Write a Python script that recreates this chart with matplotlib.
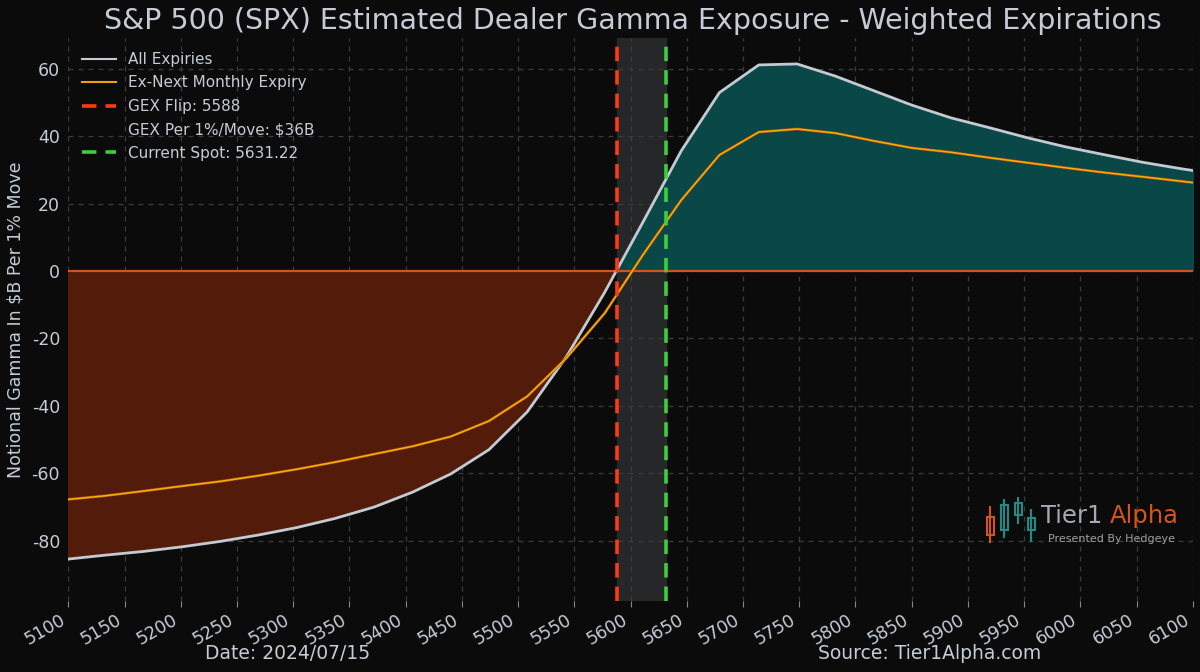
import matplotlib
matplotlib.use("Agg")
import matplotlib.pyplot as plt
import matplotlib.patches as mp
from matplotlib.lines import Line2D

plt.rcParams["axes.unicode_minus"] = False

# strikes (x) and gamma values in $B per 1% move
strikes = [5098, 5132, 5166, 5201, 5235, 5269, 5303, 5337, 5372, 5406,
           5440, 5474, 5508, 5543, 5577, 5611, 5645, 5679, 5714, 5748,
           5782, 5816, 5850, 5885, 5919, 5953, 5987, 6021, 6056, 6090, 6124]
all_expiries = [-85.5, -84.3, -83.2, -81.8, -80.2, -78.3, -76.1, -73.4, -70.0, -65.6,
                -60.2, -53.0, -41.8, -25.4, -6.3, 14.5, 35.6, 52.9, 61.1, 61.4,
                57.8, 53.5, 49.2, 45.4, 42.5, 39.5, 36.8, 34.5, 32.2, 30.3, 28.6]
ex_next_monthly = [-67.8, -66.7, -65.3, -63.8, -62.4, -60.7, -58.8, -56.7, -54.3, -52.0,
                   -49.1, -44.5, -37.2, -25.8, -12.5, 4.8, 21.0, 34.4, 41.2, 42.1,
                   40.9, 38.6, 36.5, 35.2, 33.6, 32.1, 30.6, 29.2, 27.9, 26.6, 25.3]
gex_flip = 5588
spot = 5631.22
gex_per_move = "$36B"
date = "2024/07/15"
x_ticks = list(range(5100, 6101, 50))
y_ticks = [-80, -60, -40, -20, 0, 20, 40, 60]

bg = "#0b0b0b"
txt = "#c5ccd6"

fig = plt.figure(figsize=(12, 6.72), dpi=100, facecolor=bg)
ax = fig.add_axes([0.057, 0.105, 0.937, 0.838], facecolor=bg)

ax.axvspan(gex_flip, spot, color="#262728", zorder=0)

ax.fill_between(strikes, all_expiries, 0, where=[v <= 0 for v in all_expiries],
                interpolate=True, color="#521b0a", zorder=1, linewidth=0)
ax.fill_between(strikes, all_expiries, 0, where=[v >= 0 for v in all_expiries],
                interpolate=True, color="#0a4747", zorder=1, linewidth=0)

ax.axhline(0, color="#d9501c", lw=1.6, zorder=3)
ax.plot(strikes, all_expiries, color="#c3cad2", lw=2.0, zorder=4)
ax.plot(strikes, ex_next_monthly, color="#b04a18", lw=2.0, zorder=4)
ax.plot(strikes, ex_next_monthly, color="#f0b400", lw=1.1, zorder=5)
ax.axvline(gex_flip, color="#ff3a12", lw=2.6, ls=(0, (4, 2.5)), zorder=6)
ax.axvline(spot, color="#3ccf3c", lw=2.6, ls=(0, (4, 2.5)), zorder=6)

ax.set_xlim(5100, 6100)
ax.set_ylim(-98, 69)
ax.set_xticks(x_ticks)
ax.set_yticks(y_ticks)
ax.grid(True, color="#3c3c3c", lw=0.9, ls=(0, (4, 4)))
ax.set_axisbelow(True)
for s in ax.spines.values():
    s.set_visible(False)
ax.tick_params(axis="x", colors="#888888", labelcolor=txt, labelsize=12.5,
               length=4, pad=3)
ax.tick_params(axis="y", colors=bg, labelcolor=txt, labelsize=12.5, length=0, pad=6)
ax.set_ylabel("Notional Gamma In $B Per 1% Move", color=txt, fontsize=12.5, labelpad=5)

fig.suptitle("S&P 500 (SPX) Estimated Dealer Gamma Exposure - Weighted Expirations",
             color=txt, fontsize=20.5, x=0.527, y=0.99, va="top")

handles = [
    Line2D([], [], color="#c3cad2", lw=1.5),
    Line2D([], [], color="#f2a000", lw=1.5),
    Line2D([], [], color="#ff3a12", lw=2.6, ls=(0, (4, 2.5))),
    Line2D([], [], color="none"),
    Line2D([], [], color="#3ccf3c", lw=2.6, ls=(0, (4, 2.5))),
]
labels = ["All Expiries", "Ex-Next Monthly Expiry", f"GEX Flip: {gex_flip}",
          f"GEX Per 1%/Move: {gex_per_move}", f"Current Spot: {spot}"]
leg = ax.legend(handles, labels, loc="upper left", frameon=False, fontsize=11,
                labelcolor=txt, handlelength=2.2, borderaxespad=0.5,
                labelspacing=0.55)

fig.text(0.24, 0.02, f"Date: {date}", color=txt, fontsize=13.5, ha="center",
         va="baseline")
fig.text(0.775, 0.02, "Source: Tier1Alpha.com", color=txt, fontsize=13.5, ha="center",
         va="baseline")

# logo
candles = [(990, 507, 542, 517, 535, "#d4541a"),
           (1004, 500, 537, 505, 530, "#1f8a86"),
           (1018, 498, 523, 503, 515, "#1f8a86"),
           (1031, 510, 541, 518, 530, "#1f8a86")]
for cx, y1, y2, b1, b2, c in candles:
    fig.add_artist(Line2D([cx / 1200, cx / 1200], [1 - y1 / 672, 1 - y2 / 672],
                          color=c, lw=1.5))
    fig.add_artist(mp.Rectangle(((cx - 3.5) / 1200, 1 - b2 / 672), 7 / 1200,
                                (b2 - b1) / 672, facecolor=bg, edgecolor=c, lw=1.5))
fig.text(1041 / 1200, 1 - 516 / 672, "Tier1", color="#a3aab2", fontsize=17.5, va="center")
fig.text(1110 / 1200, 1 - 516 / 672, "Alpha", color="#d4541a", fontsize=17.5, va="center")
fig.text(1112 / 1200, 1 - 539 / 672, "Presented By Hedgeye", color="#9aa1a8",
         fontsize=8, va="center", ha="center")

# rotate x labels after the ticks exist
fig.canvas.draw()
for lab in ax.get_xticklabels():
    lab.set_rotation(30)
    lab.set_ha("right")
    lab.set_va("top")
    lab.set_rotation_mode("default")

fig.savefig("out.png", dpi=100, facecolor=bg)
